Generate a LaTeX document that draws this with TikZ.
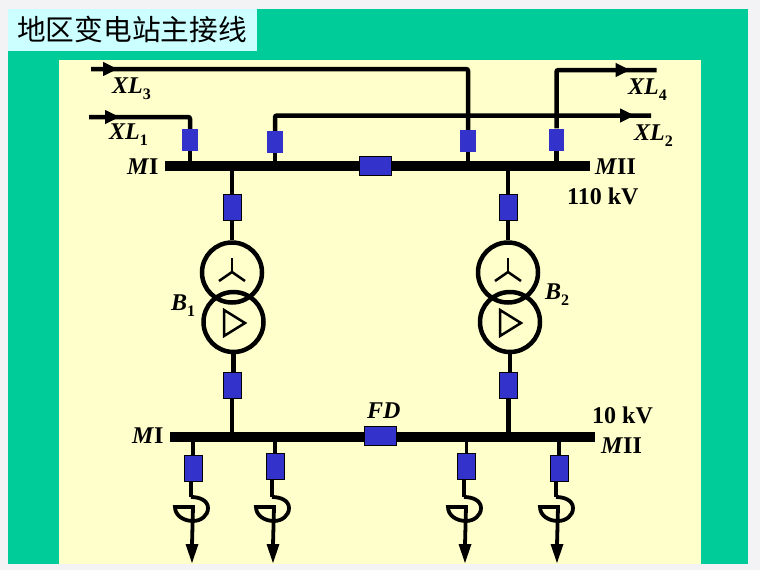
\documentclass[tikz,border=0pt]{standalone}
\usepackage{fontspec}
\setmainfont{Liberation Serif}
\newfontfamily\cjkfont{Noto Sans CJK SC}
\usetikzlibrary{arrows.meta}
\usetikzlibrary{decorations.markings}

\definecolor{bgreen}{HTML}{00CC99}
\definecolor{byellow}{HTML}{FFFFCC}
\definecolor{bcyan}{HTML}{CCFFFF}
\definecolor{bblue}{HTML}{3333CC}
\definecolor{bgrey}{HTML}{F3F3F5}

\newcommand{\lowidx}[1]{\raisebox{-0.25em}{\fontsize{16}{16}\selectfont #1}}

\tikzset{
    lbl/.style={anchor=base west,inner sep=0pt,font=\fontsize{24}{24}\selectfont\bfseries},
    bus/.style={fill=black,inner sep=0pt,minimum width=425pt,minimum height=10.5pt},
    brk/.style={draw=black,line width=0.8pt,fill=bblue,inner sep=0pt,minimum width=18pt,minimum height=26pt},
    brksmall/.style={fill=bblue,inner sep=0pt,minimum width=15.5pt,minimum height=22pt},
    brkwide/.style={draw=black,line width=0.8pt,fill=bblue,inner sep=0pt,minimum width=32pt,minimum height=19pt},
    winding/.style={draw=black,circle,line width=4.5pt,inner sep=0pt,minimum size=60pt},
    wire/.style={line width=4.5pt,rounded corners=2pt},
    feeder/.style={line width=3.8pt},
    flowtip/.tip={Triangle[length=15pt,width=13pt]},
}

\begin{document}
\begin{tikzpicture}[x=1pt,y=-1pt]
    \fill[bgrey] (0,0) rectangle (760,570);
    \fill[bgreen] (8,9) rectangle (748,564);
    \fill[byellow] (59,60) rectangle (701,564);
    \node[fill=bcyan,anchor=north west,minimum width=249pt,minimum height=42pt,inner sep=0pt] (title) at (8,9) {};
    \node[anchor=base west,inner sep=0pt,font=\cjkfont\fontsize{28.7}{29}\selectfont] (titletext) at (17,40.5) {地区变电站主接线};

    % buses
    \node[bus,anchor=west] (busH) at (165,166) {};
    \node[bus,anchor=west] (busL) at (170,437) {};

    % line breakers
    \node[brksmall] (brkA) at (190,140) {};
    \node[brksmall] (brkB) at (275,142) {};
    \node[brksmall] (brkC) at (468,141) {};
    \node[brksmall] (brkD) at (556.5,139.5) {};
    \node[brkwide] (brkH) at (375,166) {};
    \node[brkwide] (brkL) at (380,435.5) {};

    % transformers
    \node[brk] (brkT1) at (232,207.5) {};
    \node[brk] (brkT2) at (508,207.5) {};
    \node[brk] (brkU1) at (232,385.5) {};
    \node[brk] (brkU2) at (508.5,385.5) {};
    \node[winding] (wyeA) at (232,272.5) {};
    \node[winding] (deltaA) at (233.5,322) {};
    \node[winding] (wyeB) at (508,272.5) {};
    \node[winding] (deltaB) at (510,322) {};

    \coordinate (xl3in) at (91,69);
    \coordinate (xl1in) at (89,117);
    \coordinate (xl2out) at (651,115.5);
    \coordinate (xl4out) at (656.5,70);

    \draw[wire,postaction={decorate},decoration={markings,mark=at position 27pt with {\arrow{flowtip}}}] (xl3in) -| (brkC);
    \draw[wire,postaction={decorate},decoration={markings,mark=at position 31pt with {\arrow{flowtip}}}] (xl1in) -| (brkA);
    \draw[wire,postaction={decorate},decoration={markings,mark=at position -16pt with {\arrow{flowtip}}}] (brkB) |- (xl2out);
    \draw[wire,postaction={decorate},decoration={markings,mark=at position -26pt with {\arrow{flowtip}}}] (brkD) |- (xl4out);

    \draw[wire] (brkA) -- (brkA |- busH);
    \draw[wire] (brkB) -- (brkB |- busH);
    \draw[wire] (brkC) -- (brkC |- busH);
    \draw[wire] (brkD) -- (brkD |- busH);
    \draw[wire] (brkT1 |- busH) -- (brkT1);
    \draw[wire] (brkT2 |- busH) -- (brkT2);
    \draw[wire] (brkT1) -- (wyeA);
    \draw[wire] (brkT2) -- (wyeB);
    \draw[wire] (deltaA.south) -- (deltaA.south |- brkU1.north);
    \draw[wire] (deltaB.south) -- (deltaB.south |- brkU2.north);
    \draw[wire] (brkU1) -- (brkU1 |- busL);
    \draw[wire] (brkU2) -- (brkU2 |- busL);

    % winding symbols
    \foreach \xc/\nm in {232/wyeA,508/wyeB}{
        \coordinate (\nm c) at (\xc,272);
        \draw[line width=2.5pt] (\nm c) -- (\xc,258);
        \draw[line width=2.5pt] (\nm c) -- (\xc-13,281);
        \draw[line width=2.5pt] (\nm c) -- (\xc+13,281);
    }
    \foreach \xc in {224,500}{
        \draw[line width=2.5pt,line join=miter] (\xc,310) -- (\xc+21,323) -- (\xc,336) -- cycle;
    }

    % outgoing feeders
    \foreach \nm/\bx/\by/\tx in {a/193/468/192,b/275/466.5/273,c/466.5/466.5/465,d/559/468/557}{
        \node[brk] (brk\nm) at (\bx,\by) {};
        \coordinate (hook\nm) at (\tx-1,497);
        \coordinate (tip\nm) at (\tx,563);
        \draw[feeder] (brk\nm |- busL) -- (brk\nm);
        \draw[feeder] (hook\nm |- brk\nm.south) -- (hook\nm);
        \draw[feeder] (hook\nm) to[out=0,in=90] (\tx+16,508) to[out=-90,in=0] (\tx+1,521)
            to[out=180,in=-90] (\tx-17,507) -- (\tx+1,507) -- (\tx,545);
        \draw[fill=black,draw=none] (tip\nm) -- (\tx-6.5,544) -- (\tx+6.5,544) -- cycle;
    }

    % labels
    \node[lbl] (lblXL3) at (112,93) {\textit{XL}\lowidx{3}};
    \node[lbl] (lblXL1) at (109,139.5) {\textit{XL}\lowidx{1}};
    \node[lbl] (lblXL4) at (628,94.5) {\textit{XL}\lowidx{4}};
    \node[lbl] (lblXL2) at (634,140.5) {\textit{XL}\lowidx{2}};
    \node[lbl] (lblMa) at (127,174.5) {\textit{M}I};
    \node[lbl] (lblMb) at (595,174.5) {\textit{M}II};
    \node[lbl] (lblHV) at (567,204) {110 kV};
    \node[lbl] (lblB1) at (171,310) {\textit{B}\lowidx{1}};
    \node[lbl] (lblB2) at (545,299) {\textit{B}\lowidx{2}};
    \node[lbl] (lblFD) at (367,418) {\textit{FD}};
    \node[lbl] (lblLV) at (592,423) {10 kV};
    \node[lbl] (lblMc) at (132,443) {\textit{M}I};
    \node[lbl] (lblMd) at (601,453) {\textit{M}II};
\end{tikzpicture}
\end{document}
